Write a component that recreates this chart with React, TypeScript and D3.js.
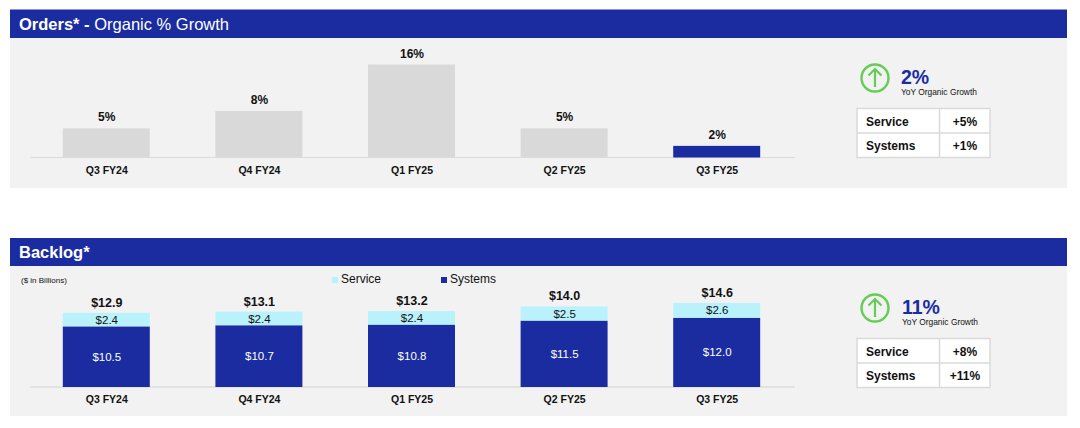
import * as d3 from "d3";

const quarters = ["Q3 FY24", "Q4 FY24", "Q1 FY25", "Q2 FY25", "Q3 FY25"];
const ordersGrowth = [5, 8, 16, 5, 2];
const backlogService = [2.4, 2.4, 2.4, 2.5, 2.6];
const backlogSystems = [10.5, 10.7, 10.8, 11.5, 12.0];
const backlogTotal = [12.9, 13.1, 13.2, 14.0, 14.6];
const ordersSplit = [["Service", "+5%"], ["Systems", "+1%"]];
const backlogSplit = [["Service", "+8%"], ["Systems", "+11%"]];

const BLUE = "#1a2ca0";
const CYAN = "#b9f2fb";
const PANEL = "#f2f2f2";
const font = "'Liberation Sans', Arial, sans-serif";

const x = d3.scaleBand<string>().domain(quarters).range([30, 793]).paddingInner(0.43).paddingOuter(0.215);
const yOrders = d3.scaleLinear().domain([0, 16]).range([157.5, 64.5]);
const yBacklog = d3.scaleLinear().domain([0, 14.6]).range([387, 303]);

function Summary({ top, value, textX, rows }: { top: number; value: string; textX: number; rows: string[][] }) {
  const rowH = 24.5;
  return (
    <g transform={`translate(0,${top})`}>
      <circle cx={875} cy={78} r={13.5} fill="none" stroke="#66cc55" strokeWidth={2.4} />
      <path d="M875 87V69M868.5 75.5L875 69L881.5 75.5" fill="none" stroke="#66cc55" strokeWidth={2.2} />
      <text x={textX} y={84} fontSize={19.5} fontWeight="bold" fill={BLUE}>{value}</text>
      <text x={textX} y={94.5} fontSize={8.4} fill="#111">YoY Organic Growth</text>
      <rect x={857} y={108.5} width={133} height={49} fill="#fff" stroke="#dadada" strokeWidth={1.5} />
      <line x1={939.5} x2={939.5} y1={108.5} y2={157.5} stroke="#dadada" strokeWidth={1.5} />
      <line x1={857} x2={990} y1={133} y2={133} stroke="#dadada" strokeWidth={1.5} />
      {rows.map((r, i) => (
        <g key={r[0]}>
          <text x={866} y={125.5 + i * rowH} fontSize={12} fontWeight="bold" fill="#111">{r[0]}</text>
          <text x={965} y={125.5 + i * rowH} fontSize={12} fontWeight="bold" fill="#111" textAnchor="middle">{r[1]}</text>
        </g>
      ))}
    </g>
  );
}

export default function App() {
  return (
    <svg
      width={1080}
      height={428}
      style={{ position: "absolute", left: 0, top: 0, background: "#fff" }}
      fontFamily={font}
    >
      {/* orders */}
      <rect x={10} y={38} width={1057} height={150} fill={PANEL} />
      <rect x={10} y={9.5} width={1057} height={28.5} fill={BLUE} />
      <text x={19} y={30} fontSize={16.5} fill="#fff">
        <tspan fontWeight="bold">Orders* - </tspan>Organic % Growth
      </text>
      <line x1={30} x2={795} y1={157.5} y2={157.5} stroke="#dcdcdc" />
      {quarters.map((q, i) => (
        <g key={q}>
          <rect
            x={x(q)}
            y={yOrders(ordersGrowth[i])}
            width={x.bandwidth()}
            height={yOrders(0) - yOrders(ordersGrowth[i])}
            fill={i === 4 ? BLUE : "#d9d9d9"}
          />
          <text x={x(q)! + x.bandwidth() / 2 + 0.5} y={yOrders(ordersGrowth[i]) - 7} fontSize={12} fontWeight="bold" textAnchor="middle" fill="#111">
            {ordersGrowth[i]}%
          </text>
          <text x={x(q)! + x.bandwidth() / 2 + 0.5} y={174} fontSize={10.5} fontWeight="bold" textAnchor="middle" fill="#111">{q}</text>
        </g>
      ))}
      <Summary top={0} value="2%" textX={901} rows={ordersSplit} />

      {/* backlog */}
      <rect x={10} y={266} width={1057} height={150} fill={PANEL} />
      <rect x={10} y={238} width={1057} height={28} fill={BLUE} />
      <text x={19} y={258} fontSize={16.5} fontWeight="bold" fill="#fff">Backlog*</text>
      <text x={21} y={283} fontSize={8} fill="#111">($ in Billions)</text>
      <rect x={332} y={277} width={6} height={6} fill={CYAN} />
      <text x={341} y={283} fontSize={12} fill="#111">Service</text>
      <rect x={441} y={277} width={6} height={6} fill={BLUE} />
      <text x={450} y={283} fontSize={12} fill="#111">Systems</text>
      <line x1={30} x2={795} y1={387} y2={387} stroke="#dcdcdc" strokeWidth={1.4} />
      {quarters.map((q, i) => {
        const cx = x(q)! + x.bandwidth() / 2 + 0.5;
        const sysTop = yBacklog(backlogSystems[i]);
        const totTop = yBacklog(backlogTotal[i]);
        return (
          <g key={q}>
            <rect x={x(q)} y={totTop} width={x.bandwidth()} height={sysTop - totTop} fill={CYAN} />
            <rect x={x(q)} y={sysTop} width={x.bandwidth()} height={yBacklog(0) - sysTop} fill={BLUE} />
            <text x={cx} y={totTop - 6} fontSize={12.5} fontWeight="bold" textAnchor="middle" fill="#111">
              ${backlogTotal[i].toFixed(1)}
            </text>
            <text x={cx} y={(totTop + sysTop) / 2 + 4} fontSize={11.5} textAnchor="middle" fill="#111">
              ${backlogService[i].toFixed(1)}
            </text>
            <text x={cx} y={(sysTop + yBacklog(0)) / 2 + 4} fontSize={11.5} textAnchor="middle" fill="#fff">
              ${backlogSystems[i].toFixed(1)}
            </text>
            <text x={cx} y={403} fontSize={10.5} fontWeight="bold" textAnchor="middle" fill="#111">{q}</text>
          </g>
        );
      })}
      <Summary top={230} value="11%" textX={902} rows={backlogSplit} />
    </svg>
  );
}
